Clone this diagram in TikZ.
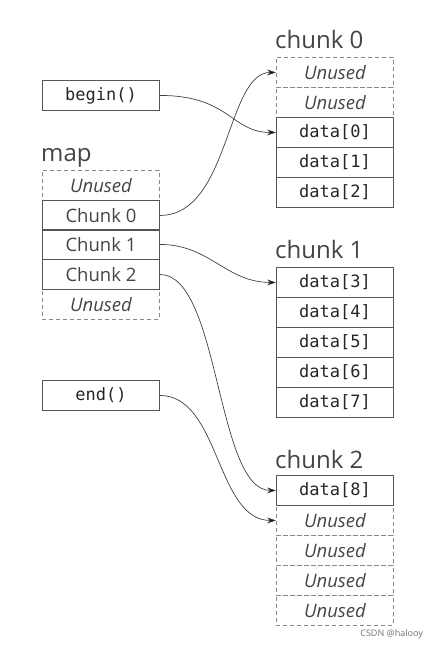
\documentclass[tikz,border=0pt]{standalone}
\usepackage{fontspec}
\setmainfont{Open Sans}
\newfontfamily\monof{DejaVu Sans Mono}
\usetikzlibrary{arrows.meta}
\definecolor{edge}{HTML}{555555}
\definecolor{dashc}{HTML}{888888}
\definecolor{txt}{HTML}{444444}
\tikzset{
  cell/.style={draw=edge, line width=0.9pt, minimum width=117pt, minimum height=30pt, inner sep=0pt, anchor=north west, text=txt, font=\fontsize{18.5}{18.5}\selectfont},
  monocell/.style={cell, font=\monof\fontsize{17}{17}\selectfont, text=black!85},
  freecell/.style={cell, draw=dashc, dash pattern=on 4pt off 3pt, font=\itshape\fontsize{18.5}{18.5}\selectfont},
  title/.style={anchor=base west, inner sep=0pt, text=txt, font=\fontsize{24}{24}\selectfont},
  link/.style={draw=black!75, line width=0.7pt, -{Stealth[length=9pt,width=6pt,fill=black]}}
}
\begin{document}
\begin{tikzpicture}[x=1pt,y=-1pt]
\useasboundingbox (0,0) rectangle (438,648);
% left column
\node[monocell] (begin) at (42,80) {begin()};
\node[title] (maplbl) at (41,161) {map};
\node[freecell] (m0) at (42,170) {Unused};
\node[freecell] (m4) at (42,289) {Unused};
\node[cell] (m1) at (42,200) {Chunk 0};
\node[cell] (m2) at (42,229) {Chunk 1};
\node[cell] (m3) at (42,259) {Chunk 2};
\node[monocell] (end) at (42,380) {end()};
% chunk 0
\node[title] (c0lbl) at (275,48) {chunk 0};
\node[freecell] (u00) at (276,57) {Unused};
\node[freecell] (u01) at (276,87) {Unused};
\node[monocell] (d0) at (276,117) {data[0]};
\node[monocell] (d1) at (276,147) {data[1]};
\node[monocell] (d2) at (276,177) {data[2]};
% chunk 1
\node[title] (c1lbl) at (275,258) {chunk 1};
\node[monocell] (d3) at (276,267) {data[3]};
\node[monocell] (d4) at (276,297) {data[4]};
\node[monocell] (d5) at (276,327) {data[5]};
\node[monocell] (d6) at (276,357) {data[6]};
\node[monocell] (d7) at (276,387) {data[7]};
% chunk 2
\node[title] (c2lbl) at (275,468) {chunk 2};
\node[freecell] (u20) at (276,505) {Unused};
\node[freecell] (u21) at (276,535) {Unused};
\node[freecell] (u22) at (276,565) {Unused};
\node[freecell] (u23) at (276,595) {Unused};
\node[monocell] (d8) at (276,475) {data[8]};
% connectors
\draw[link] (begin.east) .. controls +(70,0) and +(-45,0) .. (d0.west);
\draw[link] (m1.east) .. controls +(70,0) and +(-50,0) .. (u00.west);
\draw[link] (m2.east) .. controls +(50,0) and +(-50,0) .. (d3.west);
\draw[link] (m3.east) .. controls +(60,0) and +(-60,0) .. (d8.west);
\draw[link] (end.east) .. controls +(60,0) and +(-60,0) .. (u20.west);
% watermark
\node[anchor=base east, inner sep=0pt, text=black!55, font=\fontsize{9}{9}\selectfont] (wm) at (423,636) {CSDN @halooy};
\end{tikzpicture}
\end{document}
